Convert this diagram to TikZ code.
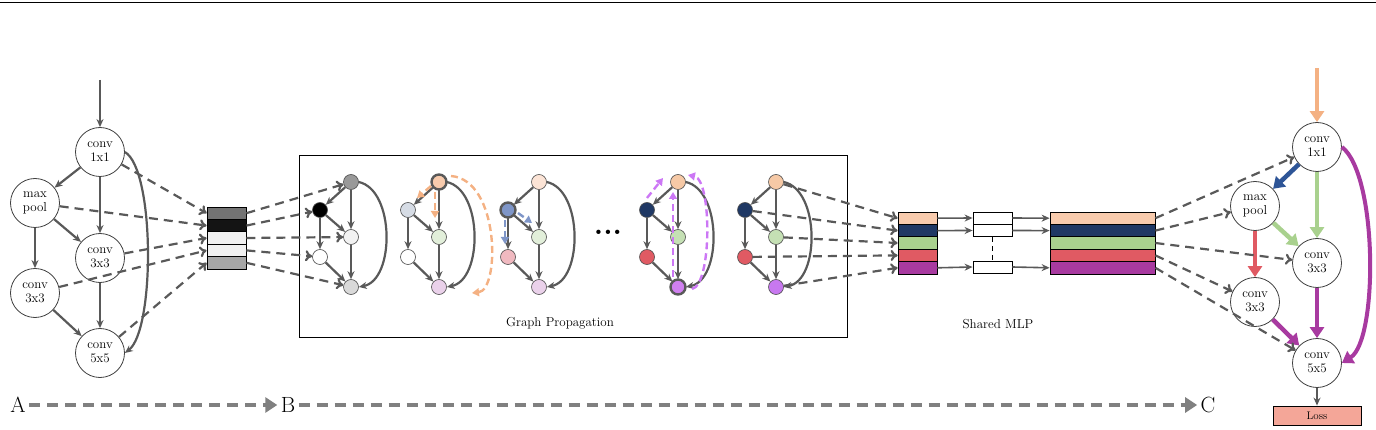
\documentclass[tikz,border=0pt]{standalone}
\usetikzlibrary{arrows.meta}
\definecolor{peach}{HTML}{F8CBAD}\definecolor{navy}{HTML}{1F3864}
\definecolor{lgreen}{HTML}{A9D18E}\definecolor{lred}{HTML}{E05A63}
\definecolor{purp}{HTML}{A83AA0}\definecolor{orng}{HTML}{F4B183}
\definecolor{narrow}{HTML}{2E5597}
\definecolor{cA}{HTML}{D6DCE5}\definecolor{cB}{HTML}{E2EFDA}\definecolor{cC}{HTML}{EAD1EA}
\definecolor{cD}{HTML}{FCE4D6}\definecolor{cE}{HTML}{7F96C8}\definecolor{cF}{HTML}{F0B9C0}
\definecolor{cG}{HTML}{F6C9A6}\definecolor{cH}{HTML}{C5E0B4}\definecolor{cI}{HTML}{D080F0}
\definecolor{cJ}{HTML}{C878F0}\definecolor{lpur}{HTML}{CC77F5}\definecolor{lossc}{HTML}{F4A698}
\begin{document}
\begin{tikzpicture}[x=1pt,y=-1pt,
  big/.style={circle,draw=black!75,fill=white,minimum size=49pt,inner sep=0pt,align=center,font=\fontsize{13}{14}\selectfont,line width=0.8pt},
  sm/.style={circle,draw=black!70,minimum size=15pt,inner sep=0pt,line width=0.6pt},
  ge/.style={draw=black!65,line width=2.2pt,-{Stealth[length=8pt,width=7pt]}},
  de/.style={draw=black!65,line width=2.2pt,dash pattern=on 9pt off 6pt,-{To[length=7pt,width=11pt]}},
  ce/.style={line width=4.5pt,-{Triangle[length=11pt,width=14pt]}},
  cell/.style={draw=black,line width=0.8pt,minimum width=39pt,minimum height=12.4pt,inner sep=0pt},
  wcell/.style={draw=black,line width=0.8pt,minimum width=105pt,minimum height=12.4pt,inner sep=0pt},
  mlp/.style={draw=black,line width=0.8pt,fill=white,minimum width=39pt,minimum height=12pt,inner sep=0pt},
  cdash/.style={line width=2.4pt,dash pattern=on 7pt off 4pt,-{Triangle[length=7pt,width=8pt]}},
  lab/.style={font=\fontsize{22}{22}\selectfont}]
\useasboundingbox (0,0) rectangle (1376,430);
\draw[black,line width=0.8pt] (0,2) -- (1376,2);
% ---------- left inception
\node[big] (a1) at (100,152) {conv\\1x1};
\node[big] (a2) at (35,203) {max\\pool};
\node[big] (a3) at (100,258) {conv\\3x3};
\node[big] (a4) at (35,293) {conv\\3x3};
\node[big] (a5) at (100,353) {conv\\5x5};
\coordinate (ain) at (100,80);
\draw[ge] (ain) -- (a1);
\draw[ge] (a1) -- (a2); \draw[ge] (a1) -- (a3); \draw[ge] (a2) -- (a3);
\draw[ge] (a2) -- (a4); \draw[ge] (a3) -- (a5); \draw[ge] (a4) -- (a5);
\draw[ge] (a1.east) .. controls (155,170) and (155,330) .. (a5.east);
\foreach \i/\c in {1/black!55,2/black!92,3/black!6,4/black!6,5/black!35}{
  \node[cell,fill=\c] (v\i) at (226.5,{207+6.2+12.4*(\i-1)}) {};}
\draw[de] (a1) -- (v1.west);
\draw[de] (a2) -- (v2.west);
\draw[de] (a3) -- (v3.west);
\draw[de] (a4) -- (v4.west);
\draw[de] (a5) -- (v5.west);
% ---------- graph propagation box
\node[draw=black,line width=0.9pt,minimum width=548pt,minimum height=182pt,inner sep=0pt] (box) at (573,246) {};
\node[font=\fontsize{13}{13}\selectfont] (gp) at (560,323) {Graph Propagation};
\node[font=\bfseries\fontsize{30}{30}\selectfont] (dots) at (608,232) {...};
\newcommand{\gr}[7]{%
  \node[sm,fill=#3] (#1t) at (#2+31,182) {};
  \node[sm,fill=#4] (#1u) at (#2,210) {};
  \node[sm,fill=#5] (#1m) at (#2+31,237) {};
  \node[sm,fill=#6] (#1l) at (#2,257) {};
  \node[sm,fill=#7] (#1b) at (#2+31,287) {};
  \draw[ge] (#1t) -- (#1u); \draw[ge] (#1t) -- (#1m); \draw[ge] (#1u) -- (#1m);
  \draw[ge] (#1u) -- (#1l); \draw[ge] (#1l) -- (#1b); \draw[ge] (#1m) -- (#1b);
  \draw[ge] (#1t.east) .. controls (#2+75,190) and (#2+75,280) .. (#1b.east);}
\gr{g}{320}{black!40}{black}{black!5}{white}{black!15}
\gr{h}{408}{peach}{cA}{cB}{white}{cC}
\gr{k}{508}{cD}{cE}{cB}{cF}{cC}
\gr{m}{647}{cG}{navy}{cH}{lred}{cI}
\gr{n}{745}{cG}{navy}{cH}{lred}{cJ}
\draw[black!65,line width=2.4pt] (ht) circle (7.5pt) (ku) circle (7.5pt) (mb) circle (7.5pt);
\draw[cdash,orng] (ht) ++(-8,4) -- ++(-14,12);
\draw[cdash,orng] (ht) ++(-4,10) -- ++(0,26);
\draw[cdash,orng] (ht) ++(12,-6) .. controls (500,180) and (500,290) .. (472,293);
\draw[cdash,cE] (ku) ++(10,3) -- ++(14,10);
\draw[cdash,cE] (ku) ++(-3,10) -- ++(0,24);
\draw[cdash,lpur] (mb) ++(-5,-10) -- ++(0,-85);
\draw[cdash,lpur] (mb) ++(14,2) .. controls (712,285) and (712,180) .. (688,175);
\draw[cdash,lpur] (mu) ++(0,-12) -- ++(16,-20);
\draw[de] (v1.east) -- (gt);
\draw[de] (v2.east) -- (gu);
\draw[de] (v3.east) -- (gm);
\draw[de] (v4.east) -- (gl);
\draw[de] (v5.east) -- (gb);
% ---------- shared MLP
\foreach \i/\c in {1/peach,2/navy,3/lgreen,4/lred,5/purp}{
  \node[cell,fill=\c] (p\i) at (917.5,{212+6.2+12.4*(\i-1)}) {};
  \node[wcell,fill=\c] (q\i) at (1102.5,{212+6.2+12.4*(\i-1)}) {};}
\draw[de] (nt) -- (p1.west);
\draw[de] (nu) -- (p2.west);
\draw[de] (nm) -- (p3.west);
\draw[de] (nl) -- (p4.west);
\draw[de] (nb) -- (p5.west);
\node[mlp] (m1) at (992.5,218) {};
\node[mlp] (m2) at (992.5,230.5) {};
\node[mlp] (m5) at (992.5,267) {};
\draw[black,line width=1pt,dash pattern=on 5pt off 4pt] (m2.south) -- (m5.north);
\foreach \i/\j in {1/1,2/2,5/5}{
  \draw[ge,line width=1.6pt] (p\i.east) -- (m\j.west);
  \draw[ge,line width=1.6pt] (m\j.east) -- (q\i.west);}
\node[font=\fontsize{13}{13}\selectfont] (smlp) at (998,324) {Shared MLP};
% ---------- right inception
\node[big] (b1) at (1317,147) {conv\\1x1};
\node[big] (b2) at (1255,206) {max\\pool};
\node[big] (b3) at (1317,263) {conv\\3x3};
\node[big] (b4) at (1255,302) {conv\\3x3};
\node[big] (b5) at (1317,363) {conv\\5x5};
\node[draw=black,line width=0.8pt,fill=lossc,minimum width=88pt,minimum height=19pt,inner sep=0pt,font=\fontsize{11}{11}\selectfont] (loss) at (1317,415.5) {Loss};
\coordinate (bin) at (1317,68);
\draw[ce,orng] (bin) -- (b1);
\draw[ce,narrow] (b1) -- (b2);
\draw[ce,lgreen] (b1) -- (b3);
\draw[ce,lgreen] (b2) -- (b3);
\draw[ce,lred] (b2) -- (b4);
\draw[ce,purp] (b3) -- (b5);
\draw[ce,purp] (b4) -- (b5);
\draw[ce,purp,line width=4pt] (b1.east) .. controls (1378,175) and (1378,340) .. (b5.east);
\draw[ge] (b5) -- (loss);
\draw[de] (q1.east) -- (b1);
\draw[de] (q2.east) -- (b2);
\draw[de] (q3.east) -- (b3);
\draw[de] (q4.east) -- (b4);
\draw[de] (q5.east) -- (b5);
% ---------- A B C
\node[lab] (A) at (18,405) {A};
\node[lab] (B) at (288,405) {B};
\node[lab] (C) at (1208,405) {C};
\draw[black!50,line width=3.5pt,dash pattern=on 11pt off 7pt,-{Triangle[length=12pt,width=15pt]}] (A) -- (B);
\draw[black!50,line width=3.5pt,dash pattern=on 11pt off 7pt,-{Triangle[length=12pt,width=15pt]}] (B) -- (C);
\end{tikzpicture}
\end{document}
